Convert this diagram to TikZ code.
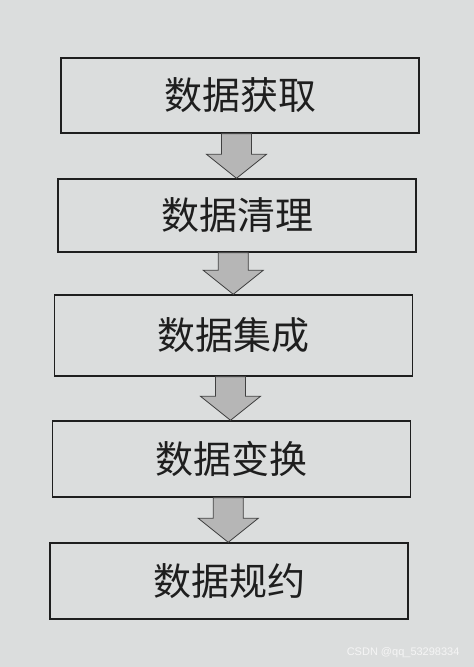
\documentclass[tikz,border=0pt]{standalone}
\usepackage{fontspec}
\newfontfamily\cjk{Noto Sans CJK SC}
\setsansfont{Liberation Sans}
\usetikzlibrary{calc}
\definecolor{paper}{RGB}{219,221,221}
\definecolor{arrowgray}{RGB}{182,182,182}
\definecolor{ink}{RGB}{30,30,30}
\newcommand\blockarrow[2]{%
  \draw[blockarr] let \p1=(#1.south), \p2=(#2.north), \n1={(\x1+\x2)/2-2pt} in
    (\n1-15pt,\y1) -- (\n1-15pt,\y2+24pt) -- (\n1-30pt,\y2+24pt) -- (\n1,\y2)
    -- (\n1+30pt,\y2+24pt) -- (\n1+15pt,\y2+24pt) -- (\n1+15pt,\y1) -- cycle;}
\begin{document}
\begin{tikzpicture}[x=1pt,y=-1pt,
  box/.style={draw=ink, line width=1.4pt, minimum width=358pt, inner sep=0pt,
    font=\cjk\fontsize{38}{38}\selectfont, text=ink},
  blockarr/.style={fill=arrowgray, draw=black!75, line width=0.8pt, line join=miter},
  wmark/.style={font=\sffamily\fontsize{11}{11}\selectfont, text=white!92!gray, anchor=east}]
\fill[paper] (0,0) rectangle (474,667);
\useasboundingbox (0,0) rectangle (474,667);
\node[box, minimum height=75pt] (b1) at (240,95.5) {数据获取};
\node[box, minimum height=73pt] (b2) at (237,215.5) {数据清理};
\node[box, minimum height=81pt] (b3) at (233.5,335.5) {数据集成};
\node[box, minimum height=76pt] (b4) at (231.5,459) {数据变换};
\node[box, minimum height=76pt] (b5) at (229,581) {数据规约};
\blockarrow{b1}{b2}
\blockarrow{b2}{b3}
\blockarrow{b3}{b4}
\blockarrow{b4}{b5}
\node[wmark] (wm) at (463,653) {CSDN @qq\_53298334};
\end{tikzpicture}
\end{document}
